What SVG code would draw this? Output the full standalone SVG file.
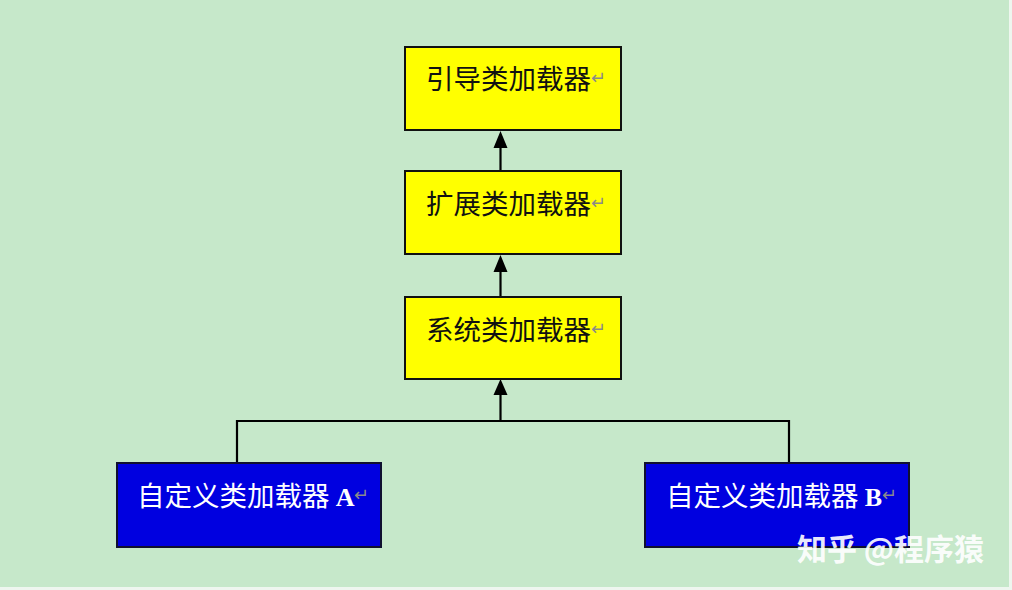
<svg xmlns="http://www.w3.org/2000/svg" width="1012" height="590" viewBox="0 0 1012 590">
<defs>
<style>
.bg{fill:#c6e8ca}
.yb{fill:#ffff00;stroke:#111111;stroke-width:2}
.bb{fill:#0000e0;stroke:#101030;stroke-width:2}
.cn{fill:none;stroke:#000000;stroke-width:2.2}
.t{font-family:"Noto Sans CJK SC","Noto Sans",sans-serif;font-size:27.5px}
.tk{fill:#111111}
.tw{fill:#ffffff}
.pm{font-family:"Liberation Serif",serif;font-size:18px;fill:#8a8a8a}
.ser{font-family:"Liberation Serif",serif;font-weight:bold}
.wm{font-family:"Noto Sans CJK SC",sans-serif;font-size:30px;font-weight:bold;fill:#ffffff;fill-opacity:0.92}
</style>
</defs>
<rect class="bg" x="0" y="0" width="1009" height="587"/>
<rect x="1009" y="0" width="3" height="590" fill="#eef6ef"/>
<rect x="0" y="587" width="1012" height="3" fill="#eef6ef"/>
<g id="connectors">
<line class="cn" x1="500.5" y1="171" x2="500.5" y2="140"/>
<path d="M493.5,148 L500.5,131 L507.5,148 Z" fill="#000"/>
<line class="cn" x1="500.5" y1="297" x2="500.5" y2="265"/>
<path d="M493.5,272 L500.5,255 L507.5,272 Z" fill="#000"/>
<polyline class="cn" points="237,463 237,421 789,421 789,463"/>
<line class="cn" x1="500.5" y1="421" x2="500.5" y2="388"/>
<path d="M493.5,395 L500.5,379 L507.5,395 Z" fill="#000"/>
</g>
<g id="node-bootstrap">
<rect class="yb" x="405" y="47" width="216" height="83"/>
<text class="t tk" x="426" y="89">引导类加载器<tspan class="pm" dy="-5">↵</tspan></text>
</g>
<g id="node-extension">
<rect class="yb" x="405" y="171" width="216" height="83"/>
<text class="t tk" x="426" y="214">扩展类加载器<tspan class="pm" dy="-5">↵</tspan></text>
</g>
<g id="node-system">
<rect class="yb" x="405" y="297" width="216" height="82"/>
<text class="t tk" x="426" y="340">系统类加载器<tspan class="pm" dy="-5">↵</tspan></text>
</g>
<g id="node-custom-a">
<rect class="bb" x="117" y="463" width="264" height="84"/>
<text class="t tw" x="137" y="506">自定义类加载器 <tspan class="ser" font-size="26">A</tspan><tspan class="pm" fill="#c8c8ff" dy="-5">↵</tspan></text>
</g>
<g id="node-custom-b">
<rect class="bb" x="645" y="463" width="264" height="84"/>
<text class="t tw" x="666" y="506">自定义类加载器 <tspan class="ser" font-size="26">B</tspan><tspan class="pm" fill="#c8c8ff" dy="-5">↵</tspan></text>
</g>
<text class="wm" x="797" y="560">知乎 @程序猿</text>
</svg>
